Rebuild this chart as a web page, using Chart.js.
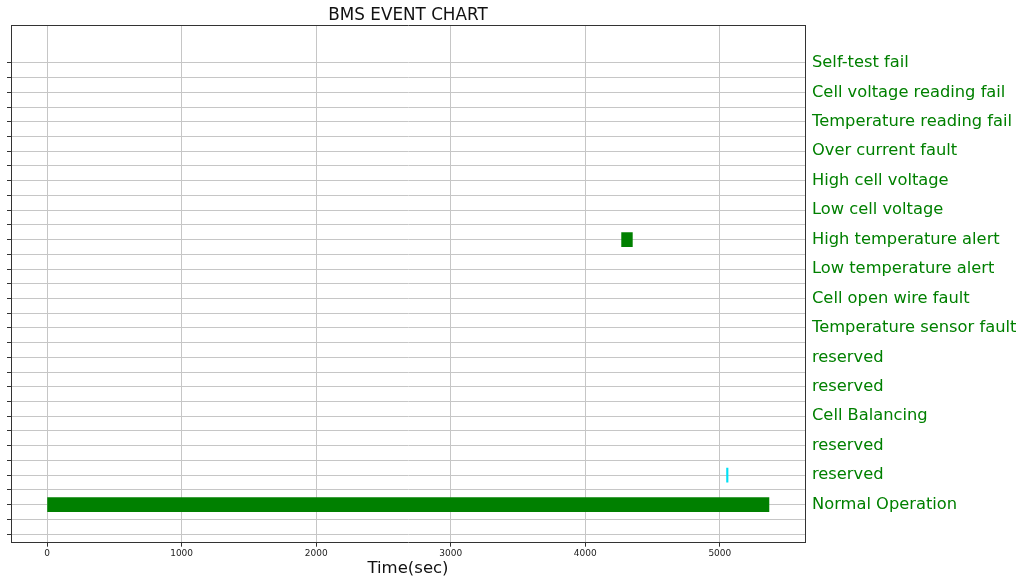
<!DOCTYPE html>
<html>
<head>
<meta charset="utf-8">
<title>BMS EVENT CHART</title>
<script src="https://cdn.jsdelivr.net/npm/chart.js@4.4.1/dist/chart.umd.min.js"></script>
<style>
  html, body { margin: 0; padding: 0; background: #fff; }
  #wrap { width: 1024px; height: 586px; position: relative; }
</style>
</head>
<body>
<div id="wrap"><canvas id="chartCanvas"></canvas></div>
<script>
// rows of the event chart, bottom to top
const rowLabels = [
    'Normal Operation', 'reserved', 'reserved', 'Cell Balancing', 'reserved', 'reserved',
    'Temperature sensor fault', 'Cell open wire fault', 'Low temperature alert',
    'High temperature alert', 'Low cell voltage', 'High cell voltage', 'Over current fault',
    'Temperature reading fail', 'Cell voltage reading fail', 'Self-test fail'
];

// events: row index, start and end time (sec)
const eventRow = [0, 1, 9];
const eventStart = [0, 5050, 4270];
const eventEnd = [5365, 5061, 4350];

const timeTicks = [0, 1000, 2000, 3000, 4000, 5000];

const timeMin = -268;
const timeMax = 5633;
const rowMin = -1.295;
const rowMax = 16.265;

const FONT = "'DejaVu Sans', sans-serif";
const GRID = '#c6c6c6';
const SPINE = '#333333';

const events = eventRow.map((r, i) => ({ x: [eventStart[i], eventEnd[i]], y: r }));

new Chart(document.getElementById('chartCanvas'), {
    type: 'bar',
    data: {
        datasets: [{
            data: events,
            backgroundColor: ['#008000', '#00e1f5', '#008000'],
            borderWidth: 0,
            barThickness: 14,
            yAxisID: 'y'
        }]
    },
    options: {
        indexAxis: 'y',
        responsive: true,
        maintainAspectRatio: false,
        animation: false,
        layout: { padding: 0 },
        plugins: {
            legend: { display: false },
            tooltip: { enabled: false },
            title: {
                display: true,
                text: 'BMS EVENT CHART',
                fullSize: false,
                color: '#111',
                font: { family: FONT, size: 16.8, weight: 'normal' },
                padding: { top: 5.5, bottom: 0 }
            }
        },
        scales: {
            x: {
                type: 'linear',
                position: 'bottom',
                min: timeMin,
                max: timeMax,
                offset: false,
                ticks: {
                    color: '#222',
                    font: { family: FONT, size: 9 },
                    padding: 2,
                    maxRotation: 0,
                    callback: v => String(v)
                },
                afterBuildTicks: s => {
                    s.ticks = timeTicks.map(v => ({ value: v }));
                },
                grid: { color: GRID, lineWidth: 1, tickColor: SPINE, tickLength: 4, offset: false },
                border: { display: true, color: SPINE, width: 1 },
                title: {
                    display: true,
                    text: 'Time(sec)',
                    color: '#111',
                    font: { family: FONT, size: 16.5 },
                    padding: { top: 0, bottom: 7.5 }
                },
                afterFit: s => { s.height = 43.3; }
            },
            xTop: {
                type: 'linear',
                position: 'top',
                min: timeMin,
                max: timeMax,
                ticks: { display: false },
                grid: { display: false, drawTicks: false, tickLength: 0 },
                border: { display: true, color: SPINE, width: 1 },
                afterFit: s => { s.height = 0; }
            },
            y: {
                type: 'linear',
                position: 'left',
                min: rowMin,
                max: rowMax,
                offset: false,
                ticks: { display: false, stepSize: 0.5, includeBounds: false },
                grid: { color: GRID, lineWidth: 1, tickColor: SPINE, tickLength: 4, offset: false },
                border: { display: true, color: SPINE, width: 1 },
                afterBuildTicks: s => {
                    s.ticks = s.ticks.filter(t => t.value <= rowLabels.length - 1);
                },
                afterFit: s => { s.width = 11; }
            },
            yLabels: {
                type: 'linear',
                position: 'right',
                min: rowMin,
                max: rowMax,
                offset: false,
                grid: { display: false, drawTicks: false, tickLength: 0 },
                border: { display: true, color: SPINE, width: 1 },
                ticks: {
                    color: 'green',
                    font: { family: FONT, size: 16.3 },
                    padding: 7,
                    callback: v => rowLabels[v]
                },
                afterBuildTicks: s => {
                    s.ticks = rowLabels.map((_, i) => ({ value: i }));
                },
                afterFit: s => { s.width = 219; }
            }
        }
    }
});
</script>
</body>
</html>
